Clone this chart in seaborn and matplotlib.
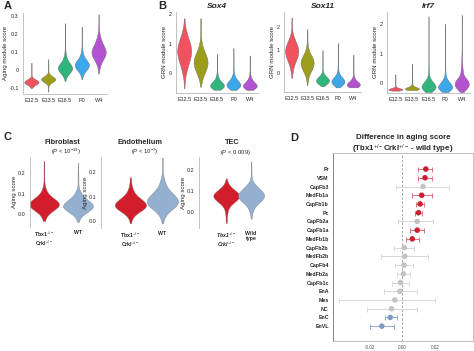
import numpy as np
import pandas as pd
import seaborn as sns
import matplotlib as mpl
from matplotlib import pyplot as plt

# Violins are given as profiles: score levels (y) and
# relative cell counts at each level (n).

# ---- panel A: aging module score per stage
stages = ["E12.5", "E13.5", "E16.5", "P0", "W4"]
stage_colors = ["#F0525F", "#9C9E1B", "#30B57C", "#3CA8EA", "#B353D2"]

aging_e125_y = [-0.1, -0.095, -0.09, -0.085, -0.08, -0.075, -0.07, -0.065, -0.06, -0.055, -0.05,
                -0.045, -0.04, -0.03, -0.02, -0.01, 0.0, 0.01, 0.02, 0.03, 0.04]
aging_e125_n = [1, 2, 4, 7, 11, 15, 19, 20, 17, 13, 8, 4, 2, 1, 1, 1, 1, 1, 1, 1, 1]
aging_e135_y = [-0.12, -0.11, -0.1, -0.09, -0.08, -0.075, -0.07, -0.065, -0.06, -0.055, -0.05, -0.045,
                -0.04, -0.035, -0.03, -0.025, -0.02, -0.01, 0.0, 0.01, 0.02, 0.03, 0.04, 0.05, 0.06]
aging_e135_n = [1, 1, 1, 1, 2, 4, 7, 11, 15, 19, 20, 18, 14, 10, 6, 4, 2, 1, 1, 1, 1, 1, 1, 1, 1]
aging_e165_y = [-0.06, -0.05, -0.04, -0.03, -0.02, -0.01, 0.0, 0.01, 0.02, 0.03, 0.04, 0.05, 0.06,
                0.07, 0.08, 0.09, 0.1, 0.12, 0.14, 0.16, 0.18, 0.2, 0.22, 0.24, 0.26]
aging_e165_n = [1, 1, 2, 4, 8, 13, 18, 20, 18, 14, 9, 6, 4, 3, 2, 2, 1, 1, 1, 1, 1, 1, 1, 1, 1]
aging_p0_y = [-0.05, -0.04, -0.03, -0.02, -0.01, 0.0, 0.01, 0.02, 0.03, 0.04, 0.05, 0.06, 0.07,
              0.08, 0.09, 0.1, 0.11, 0.12, 0.14, 0.16, 0.18, 0.2, 0.22, 0.24]
aging_p0_n = [1, 1, 2, 4, 7, 11, 16, 19, 20, 18, 14, 10, 6, 4, 3, 2, 2, 1, 1, 1, 1, 1, 1, 1]
aging_w4_y = [-0.02, -0.01, 0.0, 0.01, 0.02, 0.03, 0.04, 0.05, 0.06, 0.07, 0.08, 0.09, 0.1, 0.11, 0.12,
              0.13, 0.14, 0.15, 0.16, 0.17, 0.18, 0.19, 0.2, 0.22, 0.24, 0.26, 0.28, 0.3, 0.31]
aging_w4_n = [1, 1, 2, 2, 3, 5, 7, 9, 12, 15, 18, 20, 20, 19, 17, 15, 12, 10, 8, 6, 5, 4, 3, 2, 2, 1, 1, 1, 1]

# ---- panel B: GRN module scores
sox4_e125_y = [-0.5, -0.4, -0.3, -0.2, -0.1, 0.0, 0.1, 0.2, 0.3, 0.4, 0.5, 0.6, 0.7, 0.8, 0.9, 1.0,
               1.1, 1.2, 1.3, 1.4, 1.5, 1.6, 1.7, 1.8, 1.85]
sox4_e125_n = [1, 1, 1, 2, 3, 5, 7, 9, 12, 14, 17, 19, 20, 20, 19, 17, 14, 11, 8, 6, 4, 2, 1, 1, 1]
sox4_e135_y = [-0.45, -0.4, -0.3, -0.2, -0.1, 0.0, 0.1, 0.2, 0.3, 0.4, 0.5, 0.6, 0.7, 0.8, 0.9, 1.0,
               1.1, 1.2, 1.3, 1.4, 1.5, 1.6, 1.7, 1.8, 1.85]
sox4_e135_n = [1, 1, 2, 4, 7, 10, 14, 17, 19, 20, 18, 15, 11, 8, 5, 3, 2, 1, 1, 1, 1, 1, 1, 1, 1]
sox4_e165_y = [-0.55, -0.5, -0.45, -0.4, -0.35, -0.3, -0.25, -0.2, -0.15, -0.1, -0.05, 0.0, 0.1,
               0.2, 0.3, 0.4, 0.5, 0.6, 0.65]
sox4_e165_n = [6, 14, 19, 20, 16, 11, 7, 4, 3, 2, 2, 1, 1, 1, 1, 1, 1, 1, 1]
sox4_p0_y = [-0.56, -0.5, -0.45, -0.4, -0.35, -0.3, -0.25, -0.2, -0.15, -0.1, -0.05, 0.0, 0.1, 0.2,
             0.3, 0.4, 0.5, 0.6, 0.7, 0.85]
sox4_p0_n = [5, 12, 18, 20, 18, 14, 10, 7, 5, 3, 2, 2, 1, 1, 1, 1, 1, 1, 1, 1]
sox4_w4_y = [-0.56, -0.5, -0.45, -0.4, -0.35, -0.3, -0.25, -0.2, -0.15, -0.1, -0.05, 0.0, 0.1, 0.2,
             0.3, 0.4, 0.5, 0.6]
sox4_w4_n = [6, 15, 20, 19, 15, 10, 7, 4, 3, 2, 1, 1, 1, 1, 1, 1, 1, 1]

sox11_e125_y = [-0.2, -0.1, 0.0, 0.1, 0.2, 0.3, 0.4, 0.5, 0.6, 0.7, 0.8, 0.9, 1.0, 1.1, 1.2, 1.3, 1.4,
                1.5, 1.6, 1.7, 1.8, 1.9, 2.0, 2.1, 2.2, 2.3, 2.4]
sox11_e125_n = [1, 1, 2, 3, 4, 6, 8, 11, 14, 17, 19, 20, 20, 19, 17, 14, 11, 8, 5, 3, 2, 1, 1, 1, 1, 1, 1]
sox11_e135_y = [-0.5, -0.4, -0.3, -0.2, -0.1, 0.0, 0.1, 0.2, 0.3, 0.4, 0.5, 0.6, 0.7, 0.8, 0.9, 1.0,
                1.1, 1.2, 1.3, 1.4, 1.5, 1.6, 1.7, 1.8, 1.9]
sox11_e135_n = [1, 1, 2, 3, 5, 8, 11, 15, 18, 20, 20, 18, 15, 11, 7, 4, 3, 2, 1, 1, 1, 1, 1, 1, 1]
sox11_e165_y = [-0.55, -0.5, -0.45, -0.4, -0.35, -0.3, -0.25, -0.2, -0.15, -0.1, -0.05, 0.0, 0.1,
                0.2, 0.3, 0.4, 0.5, 0.6, 0.7, 0.8, 0.9, 1.0]
sox11_e165_n = [2, 6, 11, 16, 19, 20, 18, 14, 10, 7, 4, 3, 2, 1, 1, 1, 1, 1, 1, 1, 1, 1]
sox11_p0_y = [-0.6, -0.55, -0.5, -0.45, -0.4, -0.35, -0.3, -0.25, -0.2, -0.15, -0.1, -0.05, 0.0,
              0.1, 0.2, 0.3, 0.4, 0.5, 0.6, 0.7, 0.8, 0.9, 1.0, 1.1, 1.2, 1.3]
sox11_p0_n = [2, 6, 12, 17, 20, 20, 18, 15, 12, 9, 6, 4, 3, 2, 2, 1, 1, 1, 1, 1, 1, 1, 1, 1, 1, 1]
sox11_w4_y = [-0.6, -0.55, -0.5, -0.45, -0.4, -0.35, -0.3, -0.25, -0.2, -0.1, 0.0, 0.1, 0.2, 0.3,
              0.4, 0.5, 0.6, 0.7, 0.8]
sox11_w4_n = [8, 17, 20, 17, 12, 8, 5, 3, 2, 2, 1, 1, 1, 1, 1, 1, 1, 1, 1]

irf7_e125_y = [-0.25, -0.23, -0.21, -0.19, -0.17, -0.15, -0.13, -0.1, -0.05, 0.0, 0.05, 0.1, 0.15,
               0.2, 0.25, 0.3]
irf7_e125_n = [6, 16, 20, 16, 8, 3, 2, 1, 1, 1, 1, 1, 1, 1, 1, 1]
irf7_e135_y = [-0.23, -0.21, -0.19, -0.17, -0.15, -0.13, -0.11, -0.08, -0.05, 0.0, 0.1, 0.2, 0.3,
               0.4, 0.5, 0.6, 0.65]
irf7_e135_n = [6, 16, 20, 17, 10, 5, 3, 2, 2, 1, 1, 1, 1, 1, 1, 1, 1]
irf7_e165_y = [-0.3, -0.25, -0.2, -0.15, -0.1, -0.05, 0.0, 0.05, 0.1, 0.15, 0.2, 0.3, 0.4, 0.5, 0.6,
               0.8, 1.0, 1.2, 1.4, 1.6, 1.8, 2.0, 2.25]
irf7_e165_n = [4, 12, 18, 20, 20, 17, 13, 9, 6, 4, 3, 2, 2, 1, 1, 1, 1, 1, 1, 1, 1, 1, 1]
irf7_p0_y = [-0.3, -0.25, -0.2, -0.15, -0.1, -0.05, 0.0, 0.05, 0.1, 0.15, 0.2, 0.3, 0.4, 0.5, 0.6,
             0.8, 1.0, 1.2, 1.4, 1.6, 1.8, 2.0]
irf7_p0_n = [4, 12, 19, 20, 19, 16, 12, 9, 6, 4, 3, 2, 2, 1, 1, 1, 1, 1, 1, 1, 1, 1]
irf7_w4_y = [-0.3, -0.25, -0.2, -0.15, -0.1, -0.05, 0.0, 0.05, 0.1, 0.15, 0.2, 0.3, 0.4, 0.5, 0.6,
             0.7, 0.8, 0.9, 1.0, 1.2, 1.4, 1.6, 1.8, 2.0, 2.3]
irf7_w4_n = [3, 7, 12, 16, 19, 20, 20, 18, 16, 13, 11, 8, 6, 4, 3, 2, 2, 2, 1, 1, 1, 1, 1, 1, 1]

# ---- panel C: aging score, Tbx1+/-Crkl+/- vs wild type
fib_mut_y = [-0.035, -0.03, -0.02, -0.01, 0.0, 0.01, 0.02, 0.03, 0.04, 0.05, 0.06, 0.07, 0.08, 0.09,
             0.1, 0.11, 0.12, 0.13, 0.14, 0.16, 0.18, 0.2, 0.22, 0.24, 0.26]
fib_mut_n = [1, 1, 2, 3, 5, 8, 12, 16, 19, 20, 18, 14, 10, 7, 5, 3, 2, 2, 1, 1, 1, 1, 1, 1, 1]
fib_wt_y = [-0.04, -0.03, -0.02, -0.01, 0.0, 0.01, 0.02, 0.03, 0.04, 0.05, 0.06, 0.07, 0.08, 0.09,
            0.1, 0.11, 0.12, 0.14, 0.16, 0.18, 0.2, 0.22, 0.25]
fib_wt_n = [1, 1, 2, 4, 7, 11, 15, 19, 20, 18, 15, 11, 8, 5, 4, 3, 2, 1, 1, 1, 1, 1, 1]
endo_mut_y = [-0.01, 0.0, 0.01, 0.02, 0.03, 0.04, 0.05, 0.06, 0.07, 0.08, 0.09, 0.1, 0.11, 0.12,
              0.13, 0.14, 0.15, 0.16, 0.17, 0.18]
endo_mut_n = [1, 1, 2, 4, 7, 12, 17, 20, 20, 17, 13, 9, 6, 4, 3, 2, 1, 1, 1, 1]
endo_wt_y = [-0.01, 0.0, 0.01, 0.02, 0.03, 0.04, 0.05, 0.06, 0.07, 0.08, 0.09, 0.1, 0.11, 0.12, 0.13,
             0.14, 0.15, 0.16, 0.17, 0.18, 0.2, 0.22, 0.24, 0.26]
endo_wt_n = [1, 1, 2, 3, 5, 8, 12, 16, 19, 20, 19, 16, 13, 10, 7, 5, 4, 3, 2, 2, 1, 1, 1, 1]
tec_mut_y = [-0.05, -0.04, -0.03, -0.02, -0.01, 0.0, 0.01, 0.02, 0.03, 0.04, 0.05, 0.06, 0.07, 0.08,
             0.09, 0.1, 0.11, 0.12, 0.13, 0.14, 0.15, 0.16]
tec_mut_n = [1, 1, 1, 1, 1, 2, 2, 3, 5, 8, 12, 16, 19, 20, 18, 14, 10, 6, 4, 2, 1, 1]
tec_wt_y = [-0.03, -0.02, -0.01, 0.0, 0.01, 0.02, 0.03, 0.04, 0.05, 0.06, 0.07, 0.08, 0.09, 0.1, 0.11,
            0.12, 0.13, 0.14, 0.16, 0.18, 0.2, 0.22, 0.24]
tec_wt_n = [1, 1, 1, 2, 3, 4, 6, 9, 13, 17, 19, 20, 19, 16, 12, 9, 6, 4, 2, 1, 1, 1, 1]
geno_colors = ["#D21E2B", "#93B0D0"]

# ---- panel D: difference in aging score
cell_types = ["Pr", "VSM", "CapFb3", "MedFb1a", "CapFb1b", "Pc", "CapFb2a", "CapFb1a", "MedFb1b",
              "CapFb2b", "MedFb2b", "CapFb4", "MedFb2a", "CapFb1c", "EnA", "Mes", "NC", "EnC", "EnVL"]
diff = [0.0144, 0.0139, 0.0127, 0.0119, 0.0109, 0.0099, 0.0091, 0.0091, 0.0061,
        0.0012, 0.0014, 0.0010, 0.0006, -0.0012, -0.0016, -0.0047, -0.0067, -0.0075, -0.0127]
diff_lo = [0.0099, 0.0099, -0.0038, 0.0056, 0.0083, 0.0077, -0.0026, 0.0047, 0.0020,
           -0.0055, -0.0133, -0.0047, -0.0034, -0.0062, -0.0113, -0.039, -0.022, -0.011, -0.0198]
diff_hi = [0.0184, 0.0180, 0.0285, 0.0184, 0.0135, 0.0123, 0.0190, 0.0133, 0.0103,
           0.0074, 0.0160, 0.0068, 0.0044, 0.0038, 0.0089, 0.020, 0.0089, -0.0036, -0.0053]
signif = ["up", "up", "ns", "up", "up", "up", "ns", "up", "up",
          "ns", "ns", "ns", "ns", "ns", "ns", "ns", "ns", "down", "down"]
dot_colors = {"up": "#CC1F2F", "ns": "#C3C3C3", "down": "#7C9BC4"}
bar_colors = {"up": "#E0707A", "ns": "#D8D8D8", "down": "#90AAD0"}

W, H = 474, 351
FONT = ["Liberation Sans", "DejaVu Sans"]

sns.set_theme(style="white")
plt.rcParams["font.family"] = FONT
plt.rcParams["mathtext.fontset"] = "custom"
plt.rcParams["mathtext.rm"] = "Liberation Sans"
plt.rcParams["mathtext.it"] = "Liberation Sans:italic"
plt.rcParams["mathtext.bf"] = "Liberation Sans:bold"


def box(l, t, r, b):
    return [l / W, 1 - b / H, (r - l) / W, (b - t) / H]


def long_df(profiles, order):
    frames = [pd.DataFrame({"group": name, "score": np.repeat(y, n)})
              for name, (y, n) in zip(order, profiles)]
    return pd.concat(frames, ignore_index=True)


def style_axis(ax, spines=("left", "bottom")):
    for side, sp in ax.spines.items():
        sp.set_visible(side in spines)
        sp.set_color("0.72")
        sp.set_linewidth(0.6)
    ax.tick_params(axis="both", labelsize=3.9, length=1.5, width=0.5,
                   color="0.6", pad=1.5, labelcolor="0.15")
    ax.set_xlabel("")


fig = plt.figure(figsize=(W / 100, H / 100), dpi=100)


def stage_violin(rect, profiles, ylim, yticks, ylabel, title=None, bw=0.9):
    ax = fig.add_axes(box(*rect))
    df = long_df(profiles, stages)
    sns.violinplot(data=df, x="group", y="score", hue="group", order=stages,
                   hue_order=stages, palette=stage_colors, saturation=1,
                   density_norm="width", width=0.85, cut=0, inner=None,
                   bw_adjust=bw, linewidth=0.3, linecolor="0.4",
                   legend=False, ax=ax)
    ax.set_ylim(*ylim)
    ax.set_yticks(yticks)
    ax.set_ylabel(ylabel, fontsize=4.4, labelpad=1, color="0.15")
    style_axis(ax)
    if title:
        ax.set_title(title, fontsize=6, fontweight="bold", style="italic", pad=3)
    return ax


# A
axA = stage_violin((23, 13, 107, 94),
                   [(aging_e125_y, aging_e125_n), (aging_e135_y, aging_e135_n),
                    (aging_e165_y, aging_e165_n), (aging_p0_y, aging_p0_n),
                    (aging_w4_y, aging_w4_n)],
                   (-0.133, 0.317), [-0.1, 0, 0.1, 0.2, 0.3], "Aging module score")
axA.set_yticklabels(["-0.1", "0", "0.1", "0.2", "0.3"])

# B
stage_violin((176, 12, 258, 93),
             [(sox4_e125_y, sox4_e125_n), (sox4_e135_y, sox4_e135_n), (sox4_e165_y, sox4_e165_n),
              (sox4_p0_y, sox4_p0_n), (sox4_w4_y, sox4_w4_n)],
             (-0.66, 2.06), [0, 1, 2], "GRN module score", "Sox4")
stage_violin((284, 12, 361, 92),
             [(sox11_e125_y, sox11_e125_n), (sox11_e135_y, sox11_e135_n),
              (sox11_e165_y, sox11_e165_n), (sox11_p0_y, sox11_p0_n), (sox11_w4_y, sox11_w4_n)],
             (-0.8, 2.64), [0, 1, 2], "GRN module score", "Sox11")
stage_violin((387, 12, 470, 93),
             [(irf7_e125_y, irf7_e125_n), (irf7_e135_y, irf7_e135_n), (irf7_e165_y, irf7_e165_n),
              (irf7_p0_y, irf7_p0_n), (irf7_w4_y, irf7_w4_n)],
             (-0.33, 2.4), [0, 1, 2], "GRN module score", "Irf7", bw=0.6)

# C
mut_lab = "Tbx1$^{+/-}$\nCrkl$^{+/-}$"
c_panels = [
    ((30, 157, 95, 227), [(fib_mut_y, fib_mut_n), (fib_wt_y, fib_wt_n)],
     (-0.064, 0.28), (-0.41, 1.5), 0.88,
     "Fibroblast", r"($\it{P}$ < 10$^{-19}$)", [mut_lab, "WT"], "normal"),
    ((101, 157, 180, 228), [(endo_mut_y, endo_mut_n), (endo_wt_y, endo_wt_n)],
     (-0.029, 0.263), (-0.92, 1.55), 0.98,
     "Endothelium", r"($\it{P}$ < 10$^{-7}$)", [mut_lab, "WT"], "normal"),
    ((199, 157, 266, 228), [(tec_mut_y, tec_mut_n), (tec_wt_y, tec_wt_n)],
     (-0.074, 0.261), (-1.1, 1.6), 1.05,
     "TEC", r"($\it{P}$ < 0.009)", [mut_lab, "Wild\ntype"], "italic"),
]
for rect, profiles, ylim, xlim, wd, title, ptxt, labels, fstyle in c_panels:
    ax = fig.add_axes(box(*rect))
    df = long_df(profiles, ["mut", "wt"])
    sns.violinplot(data=df, x="group", y="score", hue="group", palette=geno_colors,
                   saturation=1, density_norm="width", width=wd, cut=0, inner=None,
                   bw_adjust=0.9, linewidth=0.25, linecolor="0.45", legend=False, ax=ax)
    ax.set_ylim(*ylim)
    ax.set_xlim(*xlim)
    ax.set_yticks([0.0, 0.1, 0.2])
    ax.set_yticklabels(["0.0", "0.1", "0.2"])
    ax.set_ylabel("Aging score", fontsize=4.4, labelpad=1, color="0.15")
    style_axis(ax, spines=("left",))
    ax.set_xticks([0, 1])
    ax.set_xticklabels(labels, fontsize=3.8, fontweight="bold", linespacing=0.95)
    ax.tick_params(axis="x", length=0, pad=2)
    ax.get_xticklabels()[0].set_style(fstyle)
    ax.text(0.5, 1.2, title, transform=ax.transAxes, ha="center", va="center",
            fontsize=5.3, fontweight="bold")
    ax.text(0.55, 1.07, ptxt, transform=ax.transAxes, ha="center", va="center",
            fontsize=4.2)

# D
axD = fig.add_axes(box(333, 153, 473, 341))
dfD = pd.DataFrame({"cell": cell_types, "diff": diff, "lo": diff_lo,
                    "hi": diff_hi, "sig": signif})
dfD["pos"] = np.arange(len(dfD))
axD.axvline(0, color="0.6", lw=0.6, ls=(0, (3, 2)), zorder=0)
for sig, sub in dfD.groupby("sig"):
    axD.errorbar(sub["diff"], sub["pos"],
                 xerr=[sub["diff"] - sub["lo"], sub["hi"] - sub["diff"]],
                 fmt="none", ecolor=bar_colors[sig], elinewidth=0.7,
                 capsize=1.8, capthick=0.7, zorder=1)
sns.scatterplot(data=dfD, x="diff", y="pos", hue="sig", palette=dot_colors,
                s=16, linewidth=0, legend=False, zorder=3, ax=axD)
axD.set_xlim(-0.0428, 0.0435)
axD.set_ylim(len(cell_types) - 1 + 1.7, -1.84)
axD.set_yticks(dfD["pos"])
axD.set_yticklabels(cell_types, fontsize=3.8, fontweight="bold")
axD.set_xticks([-0.02, 0.0, 0.02])
axD.set_xticklabels(["-0.02", "0.00", "0.02"])
style_axis(axD, spines=("left", "bottom", "top", "right"))
axD.spines["left"].set_color("0.45")
axD.tick_params(axis="x", labelsize=3.3, labelcolor="0.3")
axD.tick_params(axis="y", labelsize=3.8)
axD.set_ylabel("")
axD.text(0.5, 1.08, "Difference in aging score", transform=axD.transAxes,
         ha="center", va="center", fontsize=5.7, fontweight="bold")
axD.text(0.5, 1.022, "(Tbx1$^{+/-}$Crkl$^{+/-}$ - wild type)", transform=axD.transAxes,
         ha="center", va="center", fontsize=5.7, fontweight="bold")

# panel letters
for letter, x, y in [("A", 4, 6), ("B", 158, 6), ("C", 4, 137), ("D", 290, 138)]:
    fig.text(x / W, 1 - y / H, letter, fontsize=8, fontweight="bold", va="center", ha="left")

fig.savefig("out.png", dpi=100, facecolor="white")
